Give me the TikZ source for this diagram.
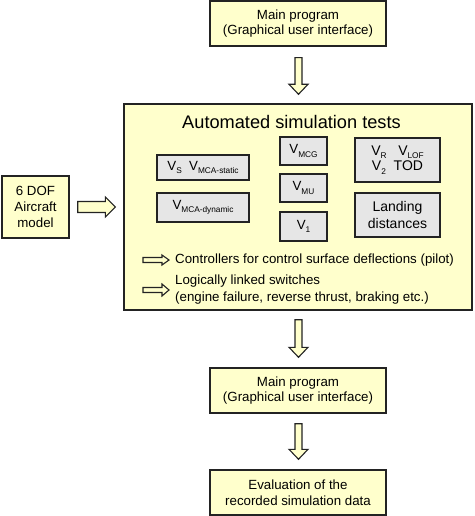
\documentclass[tikz,border=0pt]{standalone}
\usepackage{fontspec}
\setmainfont{Liberation Sans}
\usetikzlibrary{calc}
\definecolor{boxyellow}{RGB}{255,255,204}
\definecolor{boxgray}{RGB}{230,230,230}
\definecolor{edgec}{RGB}{35,35,35}
\newcommand{\sbx}[1]{\raisebox{-0.45ex}{\fontsize{8.3}{8.3}\selectfont #1}}
\tikzset{
  ybox/.style={draw=edgec, line width=1.4pt, fill=boxyellow, inner sep=0pt, align=center, font=\fontsize{13.3}{15.8}\selectfont},
  gbox/.style={draw=edgec, line width=1.2pt, fill=boxgray, inner sep=0pt, align=center, font=\fontsize{13.3}{15.8}\selectfont},
  blk/.style={draw=edgec, line width=1.1pt, fill=boxyellow, line join=miter},
  plain/.style={inner sep=0pt, font=\fontsize{13.3}{17}\selectfont, align=left}
}
% vertical block arrow: #1 start, #2 end (down)
\newcommand{\vblk}[2]{%
  \draw[blk] let \p1=#1, \p2=#2 in
    (\x1-3.5,\y1) -- (\x1+3.5,\y1) -- (\x1+3.5,\y2+10) -- (\x1+9.5,\y2+10)
    -- (\x1,\y2) -- (\x1-9.5,\y2+10) -- (\x1-3.5,\y2+10) -- cycle;}
% horizontal block arrow: #1 start, #2 end (right), #3 half shaft, #4 half head, #5 head length
\newcommand{\hblk}[5]{%
  \draw[blk] let \p1=#1, \p2=#2 in
    (\x1,\y1+#3) -- (\x2-#5,\y1+#3) -- (\x2-#5,\y1+#4) -- (\x2,\y1)
    -- (\x2-#5,\y1-#4) -- (\x2-#5,\y1-#3) -- (\x1,\y1-#3) -- cycle;}
\begin{document}
\begin{tikzpicture}[x=1pt,y=-1pt]
\useasboundingbox (0,0) rectangle (474,516);
% main boxes
\node[ybox, minimum width=176pt, minimum height=45pt] (top) at (298,23.5) {Main program\\(Graphical user interface)};
\node[ybox, minimum width=348pt, minimum height=206pt] (big) at (298,207) {};
\node[ybox, minimum width=67pt, minimum height=62pt] (dof) at (35.5,207) {6 DOF\\Aircraft\\model};
\node[ybox, minimum width=176pt, minimum height=45pt] (main2) at (298,390.5) {Main program\\(Graphical user interface)};
\node[ybox, minimum width=176pt, minimum height=45pt] (eval) at (298,492.5) {Evaluation of the\\recorded simulation data};
% title
\node[inner sep=0pt, font=\fontsize{18.2}{21}\selectfont] (title) at (291.5,122) {Automated simulation tests};
% inner gray boxes
\node[gbox, minimum width=92pt, minimum height=25pt] (vs) at (203,167.5) {V\sbx{S}\ \ V\sbx{MCA-static}};
\node[gbox, minimum width=92pt, minimum height=29pt] (vmcad) at (203,207.5) {V\sbx{MCA-dynamic}};
\node[gbox, minimum width=47pt, minimum height=28pt] (vmcg) at (303.5,151) {V\sbx{MCG}};
\node[gbox, minimum width=47pt, minimum height=28pt] (vmu) at (303.5,188) {V\sbx{MU}};
\node[gbox, minimum width=47pt, minimum height=29pt] (v1) at (303.5,226.5) {V\sbx{1}};
\node[gbox, minimum width=85pt, minimum height=44pt, font=\fontsize{14}{15.5}\selectfont] (vr) at (397.5,160) {V\sbx{R}\ \ \ V\sbx{LOF}\\V\sbx{2}\ \ TOD};
\node[gbox, minimum width=85pt, minimum height=44pt, font=\fontsize{14}{16.5}\selectfont] (land) at (397.5,215) {Landing\\distances};
% lists
\node[plain, anchor=west] (ctrl) at (175,260) {Controllers for control surface deflections (pilot)};
\node[plain, anchor=west] (logic) at (175,290) {Logically linked switches\\(engine failure, reverse thrust, braking etc.)};
\hblk{($(ctrl.west)+(-32,0)$)}{($(ctrl.west)+(-6,0)$)}{2.5}{5}{7}
\hblk{($(logic.west)+(-32,0)$)}{($(logic.west)+(-6,0)$)}{2.5}{6}{7}
% connectors
\vblk{($(top.south)+(0.5,11)$)}{($(big.north)+(0.5,-9)$)}
\vblk{($(big.south)+(0.5,9)$)}{($(main2.north)+(0.5,-10)$)}
\vblk{($(main2.south)+(0.5,10)$)}{($(eval.north)+(0.5,-10)$)}
\hblk{($(dof.east)+(8,0)$)}{($(big.west)+(-8,0)$)}{5.5}{10}{10}
\end{tikzpicture}
\end{document}
